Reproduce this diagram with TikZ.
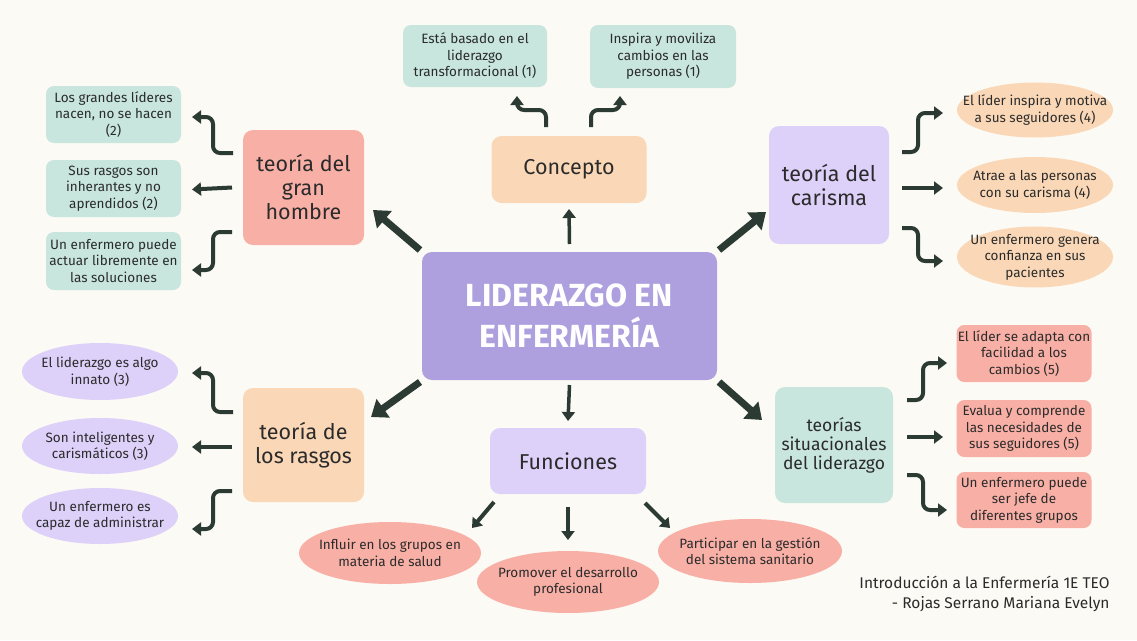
\documentclass[tikz,border=0pt]{standalone}
\usepackage{fontspec}
\setmainfont{Fira Sans}
\usetikzlibrary{arrows.meta,calc}
\definecolor{bg}{HTML}{FCFAF4}
\definecolor{ink}{HTML}{2B2B2B}
\definecolor{arrowc}{HTML}{2B3A33}
\definecolor{tealc}{HTML}{C8E6DE}
\definecolor{pinkc}{HTML}{F8B0A6}
\definecolor{peachc}{HTML}{FAD8B7}
\definecolor{lavc}{HTML}{DDD1F9}
\definecolor{lavdark}{HTML}{AE9FDE}
\begin{document}
\begin{tikzpicture}[x=1pt,y=-1pt,
 box/.style={shape=rectangle, rounded corners=10pt, fill=#1, inner sep=0pt, outer sep=0pt, align=center, text=ink},
 oval/.style={shape=rectangle, inner sep=0pt, outer sep=0pt, align=center, text=ink,
   path picture={\fill[#1] let \p1=(path picture bounding box.north east), \p2=(path picture bounding box.center) in (\p2) ellipse ({\x1-\x2} and {\y1-\y2});}},
 leaf/.style={font=\fontsize{13.5}{16.5}\selectfont},
 title/.style={font=\fontsize{21.5}{24}\selectfont},
 arr/.style={draw=arrowc, line width=4pt, rounded corners=7pt, -{Triangle[length=9pt,width=13pt]}},
 bigarr/.style={draw=arrowc, line width=7pt, -{Triangle[length=15pt,width=22pt]}},
]
\useasboundingbox[fill=bg] (0,0) rectangle (1137,640);

% central
\node[box=lavdark, minimum width=295pt, minimum height=128pt, text=white, font=\fontsize{32}{41}\selectfont\bfseries] (center) at (569.5,316) {LIDERAZGO EN\\ENFERMERÍA};

% Concepto
\node[box=peachc, title, minimum width=155pt, minimum height=67pt] (concepto) at (569,169.5) {Concepto};
\node[box=tealc, leaf, minimum width=144pt, minimum height=62pt, rounded corners=8pt] (c1) at (475,56) {Está basado en el\\liderazgo\\transformacional (1)};
\node[box=tealc, leaf, minimum width=146pt, minimum height=63pt, rounded corners=8pt] (c2) at (663,56.5) {Inspira y moviliza\\cambios en las\\personas (1)};

% gran hombre
\node[box=pinkc, title, minimum width=121pt, minimum height=115pt] (gran) at (303.5,187.5) {teoría del\\gran\\hombre};
\node[box=tealc, leaf, minimum width=135pt, minimum height=57pt, rounded corners=8pt] (g1) at (113.5,114.5) {Los grandes líderes\\nacen, no se hacen\\(2)};
\node[box=tealc, leaf, minimum width=135pt, minimum height=57pt, rounded corners=8pt] (g2) at (113.5,188.5) {Sus rasgos son\\inherantes y no\\aprendidos (2)};
\node[box=tealc, leaf, minimum width=135pt, minimum height=58pt, rounded corners=8pt] (g3) at (113.5,261) {Un enfermero puede\\actuar libremente en\\las soluciones};

% carisma
\node[box=lavc, title, minimum width=120pt, minimum height=118pt] (carisma) at (829,185) {teoría del\\carisma};
\node[oval=peachc, leaf, minimum width=156pt, minimum height=55pt] (k1) at (1035,110) {El líder inspira y motiva\\a sus seguidores (4)};
\node[oval=peachc, leaf, minimum width=156pt, minimum height=56pt] (k2) at (1035,185) {Atrae a las personas\\con su carisma (4)};
\node[oval=peachc, leaf, minimum width=156pt, minimum height=61pt] (k3) at (1035,257) {Un enfermero genera\\confianza en sus\\pacientes};

% rasgos
\node[box=peachc, title, minimum width=121pt, minimum height=114pt] (rasgos) at (303.5,445) {teoría de\\los rasgos};
\node[oval=lavc, leaf, minimum width=156pt, minimum height=57pt] (r1) at (100,371.5) {El liderazgo es algo\\innato (3)};
\node[oval=lavc, leaf, minimum width=156pt, minimum height=56pt] (r2) at (100,446) {Son inteligentes y\\carismáticos (3)};
\node[oval=lavc, leaf, minimum width=156pt, minimum height=56pt] (r3) at (100,516) {Un enfermero es\\capaz de administrar};

% funciones
\node[box=lavc, title, minimum width=156pt, minimum height=66pt] (funciones) at (568,461) {Funciones};
\node[oval=pinkc, leaf, minimum width=182pt, minimum height=62pt] (f1) at (390,553) {Influir en los grupos en\\materia de salud};
\node[oval=pinkc, leaf, minimum width=182pt, minimum height=62pt] (f2) at (568,582) {Promover el desarrollo\\profesional};
\node[oval=pinkc, leaf, minimum width=184pt, minimum height=64pt] (f3) at (750,551) {Participar en la gestión\\del sistema sanitario};

% situacionales
\node[box=tealc, minimum width=118pt, minimum height=116pt, font=\fontsize{17.5}{19}\selectfont] (sit) at (834,445) {teorías\\situacionales\\del liderazgo};
\node[box=pinkc, leaf, minimum width=135pt, minimum height=57pt, rounded corners=8pt] (s1) at (1024,353.5) {El líder se adapta con\\facilidad a los\\cambios (5)};
\node[box=pinkc, leaf, minimum width=135pt, minimum height=57pt, rounded corners=8pt] (s2) at (1024,428.5) {Evalua y comprende\\las necesidades de\\sus seguidores (5)};
\node[box=pinkc, leaf, minimum width=135pt, minimum height=56pt, rounded corners=8pt] (s3) at (1024,500) {Un enfermero puede\\ser jefe de\\diferentes grupos};

% credits
\node[anchor=east, align=right, text=ink, font=\fontsize{15.5}{20}\selectfont] (credit) at (1113,594) {Introducción a la Enfermería 1E TEO\\- Rojas Serrano Mariana Evelyn};

% main arrows
\draw[bigarr] ([shift={(-2pt,2pt)}]center.north west) -- ([shift={(9pt,-22.5pt)}]gran.east);
\draw[bigarr] ([shift={(2pt,2pt)}]center.north east) -- ([shift={(-3pt,-27pt)}]carisma.west);
\draw[bigarr] ([shift={(-2pt,-2pt)}]center.south west) -- ([shift={(7pt,28pt)}]rasgos.east);
\draw[bigarr] ([shift={(2pt,-2pt)}]center.south east) -- ([shift={(-13pt,25pt)}]sit.west);
\draw[arr, line width=3.5pt] ([yshift=8pt]center.north) -- ([yshift=-6pt]concepto.south);
\draw[arr, line width=3.5pt] ([yshift=-5pt]center.south) -- ([yshift=7pt]funciones.north);

% concepto arrows
\draw[arr] ([shift={(-23pt,9pt)}]concepto.north) -- ++(0,-17) -| ([shift={(42pt,-9pt)}]c1.south);
\draw[arr] ([shift={(22pt,9pt)}]concepto.north) -- ++(0,-17) -| ([shift={(-43pt,-8pt)}]c2.south);

% gran arrows
\draw[arr] ([shift={(-10pt,34.5pt)}]gran.west) -- ++(-20,0) |- ([shift={(11pt,-2.5pt)}]g1.east);
\draw[arr] ([shift={(-11pt,0pt)}]gran.west) -- ([shift={(11pt,-1pt)}]g2.east);
\draw[arr] ([shift={(-11pt,-44.5pt)}]gran.west) -- ++(-19,0) |- ([shift={(11pt,-9pt)}]g3.east);

% carisma arrows
\draw[arr] ([shift={(13pt,33pt)}]carisma.east) -- ++(16,0) |- ([shift={(-14pt,-3pt)}]k1.west);
\draw[arr] ([shift={(13pt,-3pt)}]carisma.east) -- ([shift={(-14pt,-3pt)}]k2.west);
\draw[arr] ([shift={(13pt,-43pt)}]carisma.east) -- ++(16,0) |- ([shift={(-14pt,-4pt)}]k3.west);

% rasgos arrows
\draw[arr] ([shift={(-10pt,33pt)}]rasgos.west) -- ++(-20,0) |- ([shift={(14pt,-1.5pt)}]r1.east);
\draw[arr] ([shift={(-11pt,-2pt)}]rasgos.west) -- ([shift={(14pt,-1pt)}]r2.east);
\draw[arr] ([shift={(-11pt,-46pt)}]rasgos.west) -- ++(-19,0) |- ([shift={(14pt,-13pt)}]r3.east);

% funciones arrows
\draw[arr] ([shift={(4pt,-8pt)}]funciones.south west) -- ([shift={(82pt,25pt)}]f1.center);
\draw[arr] ([yshift=-13pt]funciones.south) -- ([yshift=11pt]f2.north);
\draw[arr] ([shift={(-1pt,-9pt)}]funciones.south east) -- ([shift={(-80pt,23pt)}]f3.center);

% situacionales arrows
\draw[arr] ([shift={(14pt,45pt)}]sit.east) -- ++(16,0) |- ([shift={(-9.5pt,-9.5pt)}]s1.west);
\draw[arr] ([shift={(14pt,8pt)}]sit.east) -- ([shift={(-13.5pt,-8.5pt)}]s2.west);
\draw[arr] ([shift={(14pt,-30pt)}]sit.east) -- ++(16,0) |- ([shift={(-9.5pt,-10pt)}]s3.west);
\end{tikzpicture}
\end{document}
